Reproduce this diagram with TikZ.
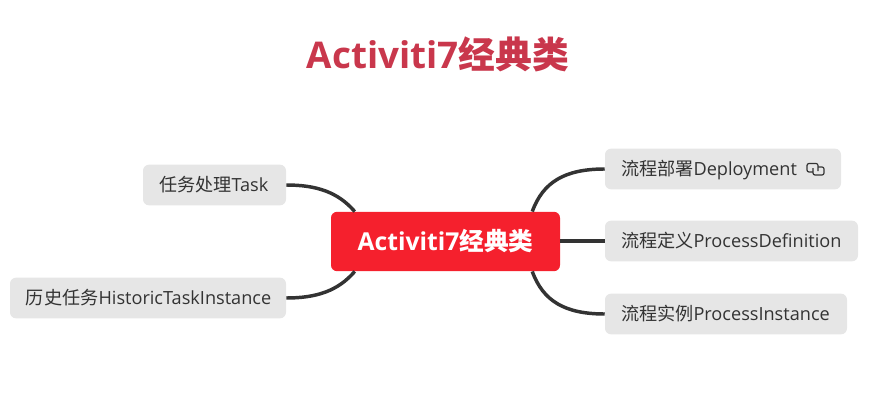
\documentclass[tikz,border=0pt]{standalone}
\usepackage{fontspec}
\setmainfont{Open Sans}
\newfontfamily\cjk{Noto Sans CJK SC}
\usetikzlibrary{calc}
\definecolor{boxgray}{HTML}{E6E6E6}
\definecolor{inkgray}{HTML}{333333}
\definecolor{linegray}{HTML}{333333}
\definecolor{rootred}{HTML}{F5202D}
\definecolor{titlered}{HTML}{C9374C}
\tikzset{
  topic/.style={fill=boxgray,rounded corners=4.5pt,text=inkgray,font=\fontsize{13.6pt}{16pt}\selectfont,
    inner ysep=0pt,inner xsep=12pt,minimum height=30.5pt,align=left,text height=13pt,text depth=3pt},
  root/.style={fill=rootred,rounded corners=4.5pt,text=white,font=\fontsize{18.5pt}{20pt}\selectfont\bfseries,
    inner sep=0pt,minimum width=171.75pt,minimum height=44.5pt},
  link/.style={draw=linegray,line width=2.6pt},
  titletext/.style={text=titlered,font=\fontsize{27.6pt}{32pt}\selectfont\bfseries,inner sep=0pt}
}
\begin{document}
\begin{tikzpicture}[x=0.75pt,y=-0.75pt]
\useasboundingbox (0,0) rectangle (877,406);
\node[titletext] (title) at (438,54) {Activiti7{\cjk 经典类}};
\node[root] (c) at (445.5,241.5) {Activiti7{\cjk 经典类}};
\node[topic,text width=83.25pt] (t1) at (214.5,185) {{\cjk 任务处理}Task};
\node[topic,text width=183pt] (t2) at (148,298) {{\cjk 历史任务}HistoricTaskInstance};
\node[topic,text width=153pt] (r1) at (723,169) {{\cjk 流程部署}Deployment};
\node[topic,text width=165.75pt] (r2) at (731.5,241) {{\cjk 流程定义}ProcessDefinition};
\node[topic,text width=157.5pt] (r3) at (726,314) {{\cjk 流程实例}ProcessInstance};
\coordinate (cnwa) at ($(c.north west)+(24,0)$);
\coordinate (cswa) at ($(c.south west)+(24,0)$);
\coordinate (cnea) at ($(c.north east)+(-28,0)$);
\coordinate (csea) at ($(c.south east)+(-28,0)$);
\draw[link] (t1.east) .. controls +(30,0) and (338,192) .. (cnwa);
\draw[link] (t2.east) .. controls +(30,0) and (338,291) .. (cswa);
\draw[link] (r1.west) .. controls +(-40,0) and (543,182) .. (cnea);
\draw[link] (r3.west) .. controls +(-40,0) and (543,301) .. (csea);
\draw[link] (c.east |- r2.west) -- (r2.west);
% link icon
\draw[inkgray,line width=0.9pt,rounded corners=1.5pt] (813,172) -- (807,172) -- (807,163.5) -- (818,163.5) -- (818,171);
\draw[inkgray,line width=0.9pt,rounded corners=1.5pt] (818,167) -- (824,167) -- (824,175) -- (813,175) -- (813,168);
\end{tikzpicture}
\end{document}
